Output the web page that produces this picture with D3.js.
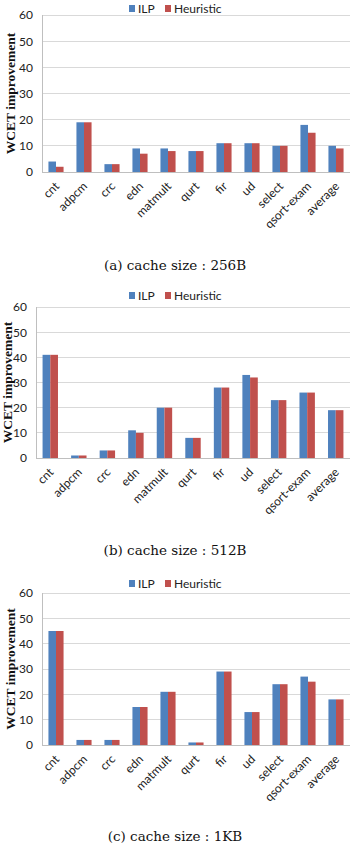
<!DOCTYPE html>
<html><head><meta charset="utf-8">
<script src="https://cdn.jsdelivr.net/npm/d3@7"></script>
<style>body{margin:0;background:#fff;} svg{display:block;}</style>
</head><body>
<svg id="chart" width="350" height="844"></svg>
<script>
const categories = ["cnt","adpcm","crc","edn","matmult","qurt","fir","ud","select","qsort-exam","average"];
const seriesNames = ["ILP","Heuristic"];
const seriesColors = ["#4F81BD","#C0504D"];
const yTicks = [0,10,20,30,40,50,60];
const captions = ["(a) cache size : 256B","(b) cache size : 512B","(c) cache size : 1KB"];
const yTitle = "WCET improvement";
const ilp256 = [4,19,3,9,9,8,11,11,10,18,10];
const heu256 = [2,19,3,7,8,8,11,11,10,15,9];
const ilp512 = [41,1,3,11,20,8,28,33,23,26,19];
const heu512 = [41,1,3,10,20,8,28,32,23,26,19];
const ilp1k = [45,2,2,15,21,1,29,13,24,27,18];
const heu1k = [45,2,2,15,21,1,29,13,24,25,18];

const panels = [
  {ilp: ilp256, heu: heu256, top: 15, bottom: 172, left: 42, legendY: 9, capY: 265, titleX: 15},
  {ilp: ilp512, heu: heu512, top: 307, bottom: 458, left: 36, legendY: 296, capY: 550, titleX: 12},
  {ilp: ilp1k, heu: heu1k, top: 593, bottom: 745, left: 42, legendY: 584, capY: 836, titleX: 15}
];
const svg = d3.select("#chart");
const right = 350;
panels.forEach((p, pi) => {
  const g = svg.append("g");
  const y = d3.scaleLinear().domain([0,60]).range([p.bottom, p.top]);
  const x0 = d3.scaleBand().domain(categories).range([p.left, right]).padding(0);
  const bw = x0.bandwidth();
  const x1 = d3.scaleBand().domain(seriesNames).range([bw*0.23, bw*0.77]).padding(0);
  // grid
  g.append("g").selectAll("line").data(yTicks).join("line")
    .attr("x1", p.left).attr("x2", right)
    .attr("y1", d => y(d)).attr("y2", d => y(d))
    .attr("stroke", d => d===0 ? "#bfbfbf" : "#d9d9d9").attr("stroke-width", 1)
    .attr("shape-rendering","crispEdges");
  g.append("line").attr("x1", p.left).attr("x2", p.left).attr("y1", p.top).attr("y2", p.bottom)
    .attr("stroke","#bfbfbf").attr("shape-rendering","crispEdges");
  // y axis labels
  const ya = d3.axisLeft(y).tickValues(yTicks).tickSize(0).tickPadding(9);
  const yg = g.append("g").attr("transform", `translate(${p.left},0)`).call(ya);
  yg.select(".domain").remove();
  yg.selectAll("text").attr("font-family","Lato, 'Open Sans', sans-serif").attr("font-size", 12).attr("fill","#222");
  // bars
  const rows = categories.map((c,i) => ({c, vals: [p.ilp[i], p.heu[i]]}));
  const cg = g.append("g").selectAll("g").data(rows).join("g")
    .attr("transform", d => `translate(${x0(d.c)},0)`);
  cg.selectAll("rect").data(d => d.vals.map((v,k) => ({s: seriesNames[k], v, k}))).join("rect")
    .attr("x", d => x1(d.s)).attr("width", x1.bandwidth())
    .attr("y", d => y(d.v)).attr("height", d => y(0) - y(d.v))
    .attr("fill", d => seriesColors[d.k]);
  // x labels
  const xa = d3.axisBottom(x0).tickSize(0).tickPadding(0);
  const xg = g.append("g").attr("transform", `translate(0,${p.bottom})`).call(xa);
  xg.select(".domain").remove();
  xg.selectAll("text")
    .attr("font-family","Lato, 'Open Sans', sans-serif").attr("font-size", 12).attr("fill","#222")
    .attr("text-anchor","end").attr("dy", null).attr("y", 0)
    .attr("transform","translate(4,15) rotate(-45)");
  // y title
  const cy = (p.top + p.bottom)/2;
  g.append("text").attr("transform", `translate(${p.titleX},${cy}) rotate(-90)`)
    .attr("text-anchor","middle").attr("font-family","'Liberation Serif', serif")
    .attr("font-weight","bold").attr("font-size", 13.5).attr("fill","#111").text(yTitle);
  // legend
  const lg = g.append("g").attr("transform", `translate(0,${p.legendY})`);
  const legX = [129, 165];
  seriesNames.forEach((s,k) => {
    lg.append("rect").attr("x", legX[k]).attr("y", -4).attr("width", 6).attr("height", 7).attr("fill", seriesColors[k]);
    lg.append("text").attr("x", legX[k]+9).attr("y", 0).attr("dy","0.35em")
      .attr("font-family","Lato, 'Open Sans', sans-serif").attr("font-size", 12).attr("fill","#222").text(s);
  });
  // caption
  svg.append("text").attr("x", 175).attr("y", p.capY).attr("dy","0.35em").attr("text-anchor","middle")
    .attr("font-family","'DejaVu Serif', serif").attr("font-size", 13.5).attr("fill","#111").text(captions[pi]);
});
</script>
</body></html>
